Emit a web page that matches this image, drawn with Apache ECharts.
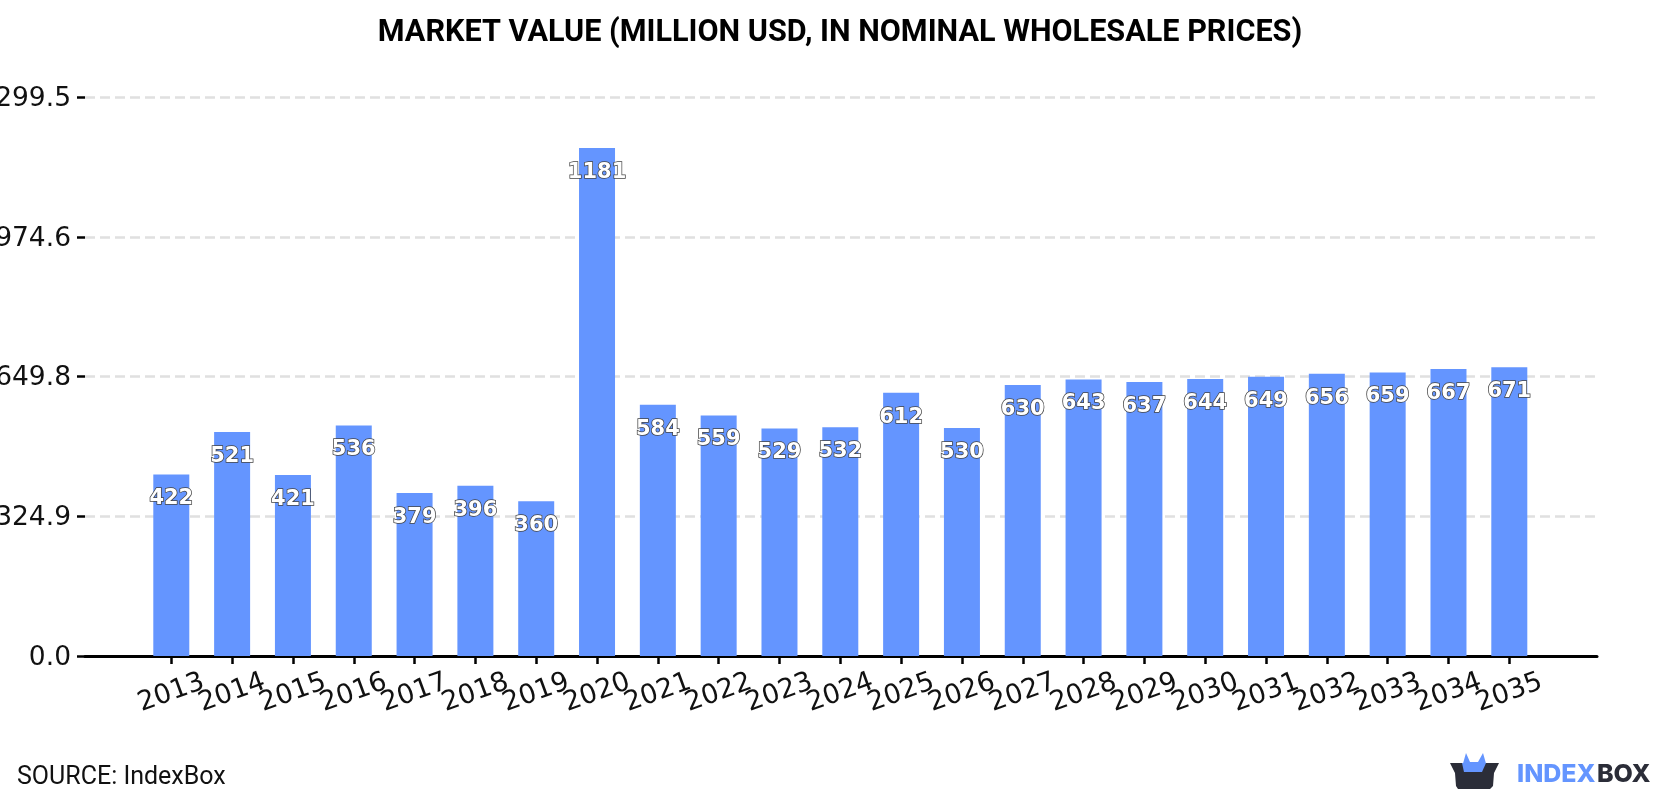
<!DOCTYPE html>
<html>
<head>
<meta charset="utf-8">
<style>html,body{margin:0;padding:0;background:#fff}#chart{width:1680px;height:800px}</style>
<script src="https://cdn.jsdelivr.net/npm/echarts@6/dist/echarts.min.js"></script>
</head>
<body>
<div id="chart"></div>
<script>
const years = ['2013','2014','2015','2016','2017','2018','2019','2020','2021','2022','2023','2024','2025','2026','2027','2028','2029','2030','2031','2032','2033','2034','2035'];
const marketValue = [422,521,421,536,379,396,360,1181,584,559,529,532,612,530,630,643,637,644,649,656,659,667,671];
const axisMax = 1299.5;
const axisStep = 324.875;
const titleText = 'MARKET VALUE (MILLION USD, IN NOMINAL WHOLESALE PRICES)';
const sourceText = 'SOURCE: IndexBox';

const chart = echarts.init(document.getElementById('chart'), null, {renderer:'canvas'});
chart.setOption({
  animation:false,
  backgroundColor:'#fff',
  title:{text:titleText,left:'center',top:13,textStyle:{fontFamily:'Roboto',fontWeight:'bold',fontSize:30.6,color:'#000'}},
  // Outer grid carries the gridlines and the long baseline; inner grid holds the 23 year bands.
  grid:[
    {left:85,right:83,top:97,bottom:144,outerBoundsMode:'none'},
    {left:140.89,right:140.29,top:97,bottom:144,outerBoundsMode:'none'}
  ],
  xAxis:[
    {
      gridIndex:0,type:'value',min:0,max:1,
      splitLine:{show:false},axisTick:{show:false},axisLabel:{show:false},
      axisLine:{show:true,lineStyle:{color:'#000',width:3}}
    },
    {
      gridIndex:1,type:'category',data:years,
      axisLine:{show:false},
      axisTick:{show:true,alignWithLabel:true,interval:0,length:8,lineStyle:{color:'#000',width:2.5}},
      axisLabel:{interval:0,rotate:20,fontFamily:'DejaVu Sans',fontSize:27,color:'#111',margin:37,align:'center',verticalAlign:'middle',hideOverlap:false}
    }
  ],
  yAxis:[
    {
      gridIndex:0,type:'value',min:0,max:axisMax,interval:axisStep,
      axisLine:{show:false},
      axisTick:{show:true,length:8,lineStyle:{color:'#000',width:2.5}},
      axisLabel:{fontFamily:'DejaVu Sans',fontSize:26.5,color:'#111',margin:14,verticalAlign:'top',lineHeight:4,formatter:v=>v.toFixed(1)},
      splitLine:{show:true,lineStyle:{color:'#e0e0e0',width:2.5,type:[10,5]}}
    },
    {
      gridIndex:1,type:'value',min:0,max:axisMax,interval:axisStep,show:false
    }
  ],
  series:[{
    type:'bar',
    xAxisIndex:1,yAxisIndex:1,
    data:marketValue,
    barWidth:36,
    itemStyle:{color:'#6495ff'},
    label:{show:true,position:'insideTop',distance:14,fontFamily:'DejaVu Sans',fontWeight:'bold',fontSize:21,color:'#fff',textBorderColor:'#444',textBorderWidth:1.5}
  }],
  graphic:[
    {type:'text',left:17,top:765,style:{text:sourceText,fontFamily:'Roboto',fontSize:25,fill:'#111'}},
    {type:'polygon',shape:{points:[[1462,767],[1466,753],[1470,762],[1478,762],[1483,753],[1487,767]]},style:{fill:'#6495ff'}},
    {type:'polygon',shape:{points:[[1450,763],[1499,763],[1494,773],[1493,786],[1490,789],[1458,789],[1456,786],[1455,773]]},style:{fill:'#2b2d38'}},
    {type:'polygon',shape:{points:[[1462,763],[1486,763],[1482,772],[1464,772]]},style:{fill:'#6495ff'}},
    {type:'text',left:1517,top:762,style:{text:'INDEX',fontFamily:'Inter',fontWeight:800,fontSize:25,fill:'#6495ff'}},
    {type:'text',left:1597,top:762,style:{text:'BOX',fontFamily:'Inter',fontWeight:800,fontSize:25,fill:'#2b2d38'}}
  ]
});
</script>
</body>
</html>
